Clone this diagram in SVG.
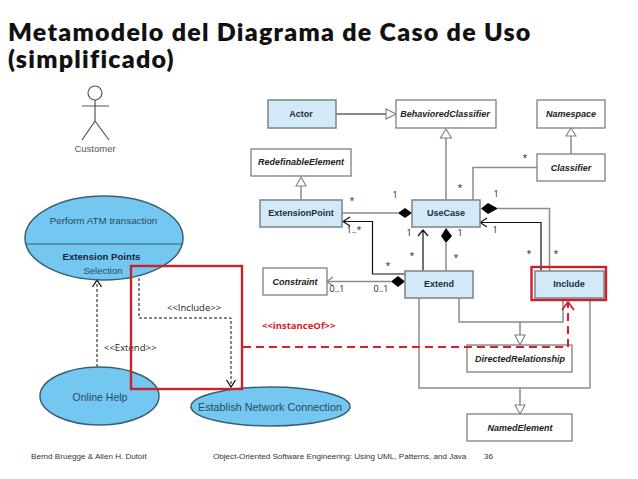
<svg xmlns="http://www.w3.org/2000/svg" width="638" height="479" viewBox="0 0 638 479">
<defs>
<style>
.blue{fill:#d3e9f8;stroke:#7f8a92;stroke-width:1.6}
.white{fill:#fff;stroke:#7f7f7f;stroke-width:1.3}
.cn{font:bold 9px "Liberation Sans",Arial,sans-serif;fill:#1f2d38;text-anchor:middle}
.ci{font:italic bold 9px "Liberation Sans",Arial,sans-serif;fill:#222;text-anchor:middle}
.mult{font:9px "Open Sans",sans-serif;fill:#222;text-anchor:middle}
.uc{fill:#73c7f1;stroke:#3d5f73;stroke-width:1.5}
.uct{font:10.5px "Liberation Sans",Arial,sans-serif;fill:#2a4a60;text-anchor:middle}
.g{fill:none;stroke:#8c8c8c;stroke-width:1.5}
.k{fill:none;stroke:#111;stroke-width:1.2}
.d{fill:none;stroke:#111;stroke-width:1;stroke-dasharray:3 2}
.tri{fill:#fff;stroke:#808080;stroke-width:1.1}
.dia{fill:#000}
.foot{font:8.1px "Liberation Sans",Arial,sans-serif;fill:#333}
.lbl{font:9.5px "Open Sans",sans-serif;fill:#222}
.red{fill:none;stroke:#c8232a;stroke-width:2.4}
.title{font:800 25px Lato,"Open Sans",sans-serif;letter-spacing:1.25px;fill:#111}
</style>
</defs>
<text class="title" x="8" y="41">Metamodelo del Diagrama de Caso de Uso</text>
<text class="title" x="8" y="68">(simplificado)</text>

<g id="customer">
<circle cx="95" cy="93" r="7" fill="#fff" stroke="#555" stroke-width="1.2"/>
<path d="M82 106H109M95 100V121L82 140M95 121L109 140" fill="none" stroke="#555" stroke-width="1.2"/>
<text x="95" y="152" font-family="'Liberation Sans',sans-serif" font-size="9.5" fill="#555" text-anchor="middle">Customer</text>
</g>

<g id="connectors">
<path class="k" d="M336 114H386"/>
<path class="g" d="M446 200V138M571 154V134M301 200V186M342 213H398M473 200V167.500H537"/>
<path class="g" d="M498 208.500H549.500V271M446 243V271M327 281.500H391"/>
<path class="k" d="M423 271V230M418 236L423 230L428 236M405 274H372.500V221.500H344M350 217L343 221.500L350 226M541 271V222.500H481M487 218L480 222.500L487 227"/>
<path class="g" d="M333 277L327 281.500L333 286"/>
<path class="g" d="M459 298V322H563V298M520 322V335M419 298V388H590V298M520 388V405"/>
<polygon class="tri" points="446,129 440.500,138 451.500,138"/>
<polygon class="tri" points="396,114 386,109 386,119"/>
<polygon class="tri" points="571,128 566,136 576,136"/>
<polygon class="tri" points="301,177 296,186 306,186"/>
<polygon class="tri" points="520,345 515,335 525,335"/>
<polygon class="tri" points="520,414 515,405 525,405"/>
<polygon class="dia" points="412,213 405,208 398,213 405,218"/>
<polygon class="dia" points="481,208.500 488,203 498,208.500 488,214"/>
<polygon class="dia" points="446,228 452,236 446,243 441,236"/>
<polygon class="dia" points="405,281.500 398,276 391,281.500 398,287"/>
<path class="d" d="M97 367V281M139 273V318H231V386"/>
<path d="M92.500 287L97 280L101.500 287M226.500 380L231 387L235.500 380" fill="none" stroke="#111" stroke-width="1.3"/>
</g>

<g id="ActorNode"><rect class="blue" x="268" y="100" width="68" height="28"/><text class="cn" x="301" y="117">Actor</text></g>
<g id="BehavioredClassifierNode"><rect class="white" x="396" y="100" width="100" height="28"/><text class="ci" x="445" y="117">BehavioredClassifier</text></g>
<g id="NamespaceNode"><rect class="white" x="537" y="100" width="68" height="28"/><text class="ci" x="571" y="117">Namespace</text></g>
<g id="ClassifierNode"><rect class="white" x="537" y="154" width="68" height="27"/><text class="ci" x="571" y="171">Classifier</text></g>
<g id="RedefinableElementNode"><rect class="white" x="251" y="149" width="100" height="27"/><text class="ci" x="301" y="165">RedefinableElement</text></g>
<g id="ExtensionPointNode"><rect class="blue" x="260" y="200" width="82" height="27"/><text class="cn" x="301" y="216">ExtensionPoint</text></g>
<g id="UseCaseNode"><rect class="blue" x="412" y="200" width="68" height="27"/><text class="cn" x="446" y="216">UseCase</text></g>
<g id="ConstraintNode"><rect class="white" x="263" y="268" width="64" height="27"/><text class="ci" x="295" y="285">Constraint</text></g>
<g id="ExtendNode"><rect class="blue" x="405" y="271" width="68" height="27"/><text class="cn" x="439" y="287">Extend</text></g>
<g id="IncludeNode"><rect class="blue" x="535" y="271" width="69" height="27"/><text class="cn" x="569" y="287">Include</text></g>
<g id="DirectedRelationshipNode"><rect class="white" x="467" y="345" width="105" height="27"/><text class="ci" x="520" y="362">DirectedRelationship</text></g>
<g id="NamedElementNode"><rect class="white" x="467" y="414" width="105" height="27"/><text class="ci" x="520" y="431">NamedElement</text></g>

<g id="multiplicities">
<text class="mult" x="352" y="204">*</text>
<text class="mult" x="395" y="198">1</text>
<text class="mult" x="354" y="233">1..*</text>
<text class="mult" x="409" y="236">1</text>
<text class="mult" x="460" y="236">1</text>
<text class="mult" x="388" y="269">*</text>
<text class="mult" x="412" y="259">*</text>
<text class="mult" x="456" y="261">*</text>
<text class="mult" x="460" y="191">*</text>
<text class="mult" x="525" y="161">*</text>
<text class="mult" x="496" y="197">1</text>
<text class="mult" x="495" y="233">1</text>
<text class="mult" x="529" y="257">*</text>
<text class="mult" x="556" y="257">*</text>
<text class="mult" x="337" y="292">0..1</text>
<text class="mult" x="381" y="292">0..1</text>
</g>

<g id="PerformATM">
<ellipse class="uc" cx="104" cy="238" rx="79" ry="42"/>
<path d="M26 244H183" stroke="#3d5f73" stroke-width="1.2"/>
<text class="uct" x="103.500" y="224" style="font-size:9.800px">Perform ATM transaction</text>
<text x="101.500" y="260" font-family="'Liberation Sans',sans-serif" font-weight="700" font-size="9.600" fill="#12263a" text-anchor="middle">Extension Points</text>
<text class="uct" x="103" y="274" style="font-size:9.500px">Selection</text>
</g>
<g id="OnlineHelp"><ellipse class="uc" cx="99.500" cy="396" rx="59.500" ry="29"/><text class="uct" x="100" y="401">Online Help</text></g>
<g id="EstablishNetworkConnection"><ellipse class="uc" cx="270.500" cy="406.500" rx="79.500" ry="19.500"/><text class="uct" x="270" y="411" style="font-size:10.800px">Establish Network Connection</text></g>

<text class="lbl" x="167" y="311">&lt;&lt;Include&gt;&gt;</text>
<text class="lbl" x="104" y="351">&lt;&lt;Extend&gt;&gt;</text>

<g id="highlights">
<rect class="red" x="131" y="266" width="111" height="123"/>
<rect class="red" x="531.500" y="267" width="74.500" height="33"/>
<path d="M243 347H568V303" fill="none" stroke="#d9202a" stroke-width="2" stroke-dasharray="8 5"/>
<path d="M562 310L568 302L574 310" fill="none" stroke="#d9202a" stroke-width="1.8"/>
<text x="262" y="329" font-family="'Open Sans',sans-serif" font-weight="700" font-size="9.500" fill="#d9202a">&lt;&lt;instanceOf&gt;&gt;</text>
</g>

<text class="foot" x="31" y="459">Bernd Bruegge &amp; Allen H. Dutoit</text>
<text class="foot" x="213" y="459">Object-Oriented Software Engineering: Using UML, Patterns, and Java</text>
<text class="foot" x="484" y="459">36</text>
</svg>
